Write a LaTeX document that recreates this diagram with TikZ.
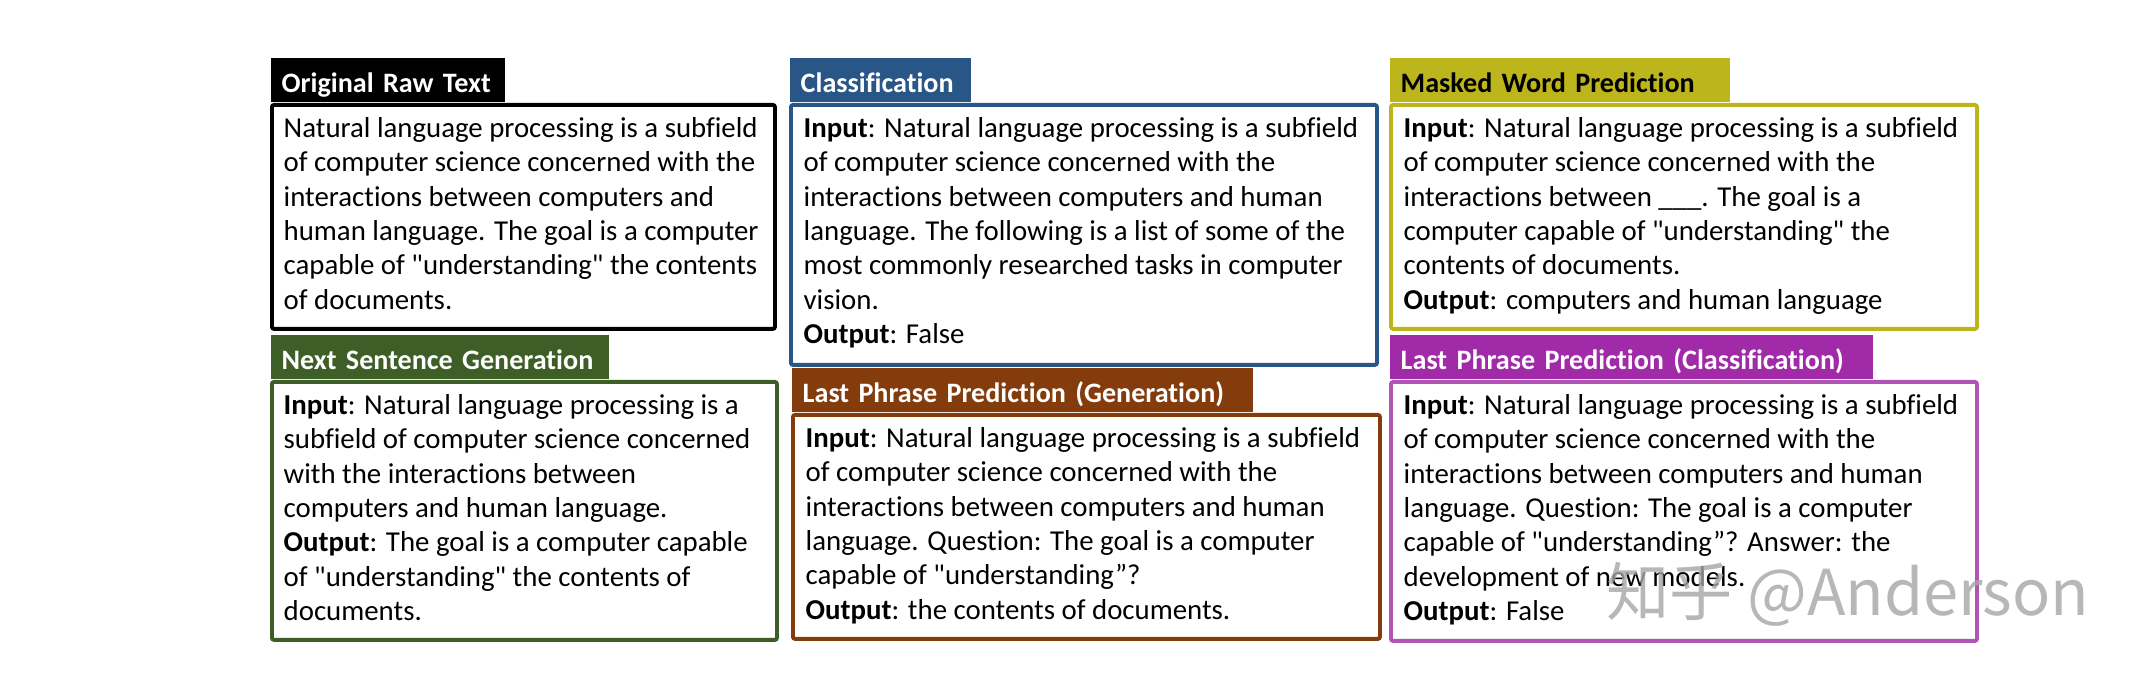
\documentclass[tikz,border=0pt]{standalone}
\usepackage{fontspec}
\setmainfont{Carlito}[Ligatures={TeX,CommonOff}]
\newfontfamily\cjk{Noto Sans CJK SC}
\usepackage{tikz}
\usetikzlibrary{positioning}
\definecolor{nsggreen}{RGB}{61,95,39}
\definecolor{clsblue}{RGB}{40,86,135}
\definecolor{lpgbrown}{RGB}{132,60,12}
\definecolor{mwpolive}{RGB}{189,181,28}
\definecolor{lpcpurple}{RGB}{161,42,168}
\definecolor{lpcline}{RGB}{176,85,181}
\newcommand{\sq}{\XeTeXglyph\XeTeXcharglyph"22\relax}% straight double quote

\begin{document}
\begin{tikzpicture}[
  panel/.style={draw=#1, line width=1.1pt, rounded corners=0.6pt, anchor=north west, inner sep=0pt},
  tab/.style={fill=#1, inner xsep=0.11cm, inner ysep=0pt, text height=0.34cm, text depth=0.10cm, align=left, text=white, font=\bfseries\fontsize{8}{9}\selectfont},
  body/.style={inner sep=0pt, align=left, font=\fontsize{8.2}{9.75}\selectfont}]
\useasboundingbox[fill=white] (0,0) rectangle (21.46,6.76);

% left column
\node[panel=black, minimum width=5.03cm, minimum height=2.24cm] (ortbox) at (2.70,5.73) {};
\node[tab=black, text width=2.12cm, above right=0pt and 0pt of ortbox.north west] (orttab) {Original Raw Text};
\node[body, below right=0.14cm and 0.13cm of ortbox.north west] (orttext) {Natural language processing is a subfield\\
of computer science concerned with the\\
interactions between computers and\\
human language. The goal is a computer\\
capable of \sq understanding\sq{} the contents\\
of documents.};

\node[panel=nsggreen, minimum width=5.05cm, minimum height=2.58cm] (nsgbox) at (2.70,2.96) {};
\node[tab=nsggreen, text width=3.16cm, above right=0pt and 0pt of nsgbox.north west] (nsgtab) {Next Sentence Generation};
\node[body, below right=0.14cm and 0.13cm of nsgbox.north west] (nsgtext) {\textbf{Input}: Natural language processing is a\\
subfield of computer science concerned\\
with the interactions between\\
computers and human language.\\
\textbf{Output}: The goal is a computer capable\\
of \sq understanding\sq{} the contents of\\
documents.};

% middle column
\node[panel=clsblue, minimum width=5.86cm, minimum height=2.60cm] (clsbox) at (7.89,5.73) {};
\node[tab=clsblue, text width=1.59cm, above right=0pt and 0pt of clsbox.north west] (clstab) {Classification};
\node[body, below right=0.14cm and 0.14cm of clsbox.north west] (clstext) {\textbf{Input}: Natural language processing is a subfield\\
of computer science concerned with the\\
interactions between computers and human\\
language. The following is a list of some of the\\
most commonly researched tasks in computer\\
vision.\\
\textbf{Output}: False};

\node[panel=lpgbrown, minimum width=5.87cm, minimum height=2.24cm] (lpgbox) at (7.91,2.63) {};
\node[tab=lpgbrown, text width=4.39cm, above right=0pt and 0pt of lpgbox.north west] (lpgtab) {Last Phrase Prediction (Generation)};
\node[body, below right=0.14cm and 0.14cm of lpgbox.north west] (lpgtext) {\textbf{Input}: Natural language processing is a subfield\\
of computer science concerned with the\\
interactions between computers and human\\
language. Question: The goal is a computer\\
capable of \sq understanding”?\\
\textbf{Output}: the contents of documents.};

% right column
\node[panel=mwpolive, minimum width=5.86cm, minimum height=2.24cm] (mwpbox) at (13.89,5.73) {};
\node[tab=mwpolive, text=black, text width=3.18cm, above right=0pt and 0pt of mwpbox.north west] (mwptab) {Masked Word Prediction};
\node[body, below right=0.14cm and 0.14cm of mwpbox.north west] (mwptext) {\textbf{Input}: Natural language processing is a subfield\\
of computer science concerned with the\\
interactions between \_\_\_. The goal is a\\
computer capable of \sq understanding\sq{} the\\
contents of documents.\\
\textbf{Output}: computers and human language};

\node[panel=lpcline, minimum width=5.86cm, minimum height=2.59cm] (lpcbox) at (13.89,2.96) {};
\node[tab=lpcpurple, text width=4.61cm, above right=0pt and 0pt of lpcbox.north west] (lpctab) {Last Phrase Prediction (Classification)};
\node[body, below right=0.14cm and 0.14cm of lpcbox.north west] (lpctext) {\textbf{Input}: Natural language processing is a subfield\\
of computer science concerned with the\\
interactions between computers and human\\
language. Question: The goal is a computer\\
capable of \sq understanding”? Answer: the\\
development of new models.\\
\textbf{Output}: False};

% watermark
\node[text=gray!70, opacity=0.8, font=\cjk\fontsize{18}{20}\selectfont] (mark) at (18.48,0.82) {知乎 @Anderson};
\end{tikzpicture}
\end{document}
